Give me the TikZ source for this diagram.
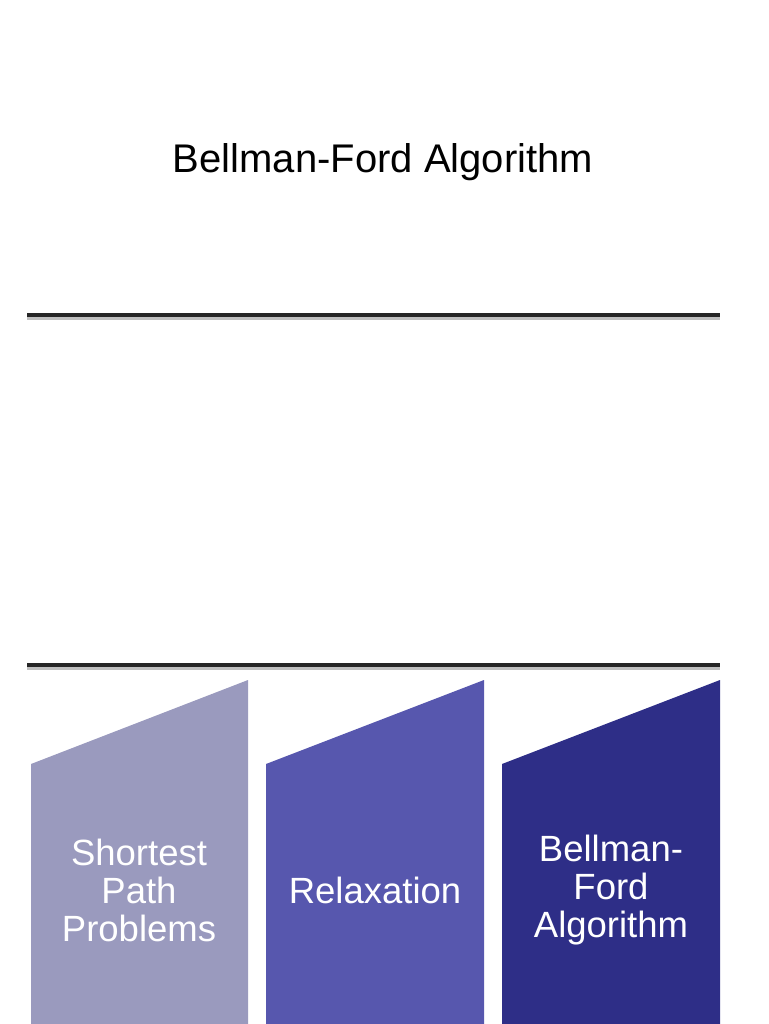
\documentclass[tikz,border=0pt]{standalone}
\usepackage{fontspec}
\setmainfont{Liberation Sans}
\definecolor{c1}{HTML}{9A9ABE}
\definecolor{c2}{HTML}{5757AE}
\definecolor{c3}{HTML}{2E2E87}
\tikzset{rule/.style={line width=4pt,draw=black!85},
 lbl/.style={text=white,align=center,font=\fontsize{36.5}{38}\selectfont,inner sep=0pt}}
\begin{document}
\begin{tikzpicture}[x=1pt,y=-1pt]
\useasboundingbox (0,0) rectangle (768,1024);
\node[font=\fontsize{40}{44}\selectfont,inner sep=0pt] (title) at (383,162) {Bellman-Ford Algorithm};
\fill[black!25] (27,313) rectangle (720,320);
\draw[rule] (27,315) -- (720,315);
\fill[black!25] (27,663) rectangle (720,670);
\draw[rule] (27,665) -- (720,665);
\fill[c1] (31,764) -- (248,680) -- (248,1024) -- (31,1024) -- cycle;
\fill[c2] (266,764) -- (484,680) -- (484,1024) -- (266,1024) -- cycle;
\fill[c3] (502,764) -- (720,680) -- (720,1024) -- (502,1024) -- cycle;
\node[lbl] (a) at (139,890) {Shortest\\Path\\Problems};
\node[lbl] (b) at (375,890) {Relaxation};
\node[lbl] (c) at (611,890) {Bellman-\\Ford\\Algorithm};
\end{tikzpicture}
\end{document}
